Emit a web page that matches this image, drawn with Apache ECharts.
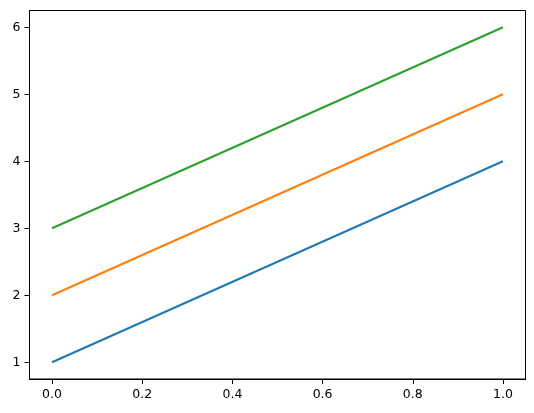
<!DOCTYPE html>
<html><head><meta charset="utf-8">
<script src="https://cdn.jsdelivr.net/npm/echarts@6/dist/echarts.min.js"></script>
<style>html,body{margin:0;padding:0;background:#fff}#c{width:534px;height:413px}</style>
</head><body><div id="c"></div>
<script>
const xValues = [0, 1];
const series1 = [1, 4];
const series2 = [2, 5];
const series3 = [3, 6];
const xTicks = [0, 0.2, 0.4, 0.6, 0.8, 1.0];
const yTicks = [1, 2, 3, 4, 5, 6];
const colors = ['#1f77b4', '#ff7f0e', '#2ca02c'];

const chart = echarts.init(document.getElementById('c'), null, {renderer: 'canvas'});
const font = {fontFamily: 'DejaVu Sans', fontSize: 12.5, color: '#000'};
const mk = (vals, i) => ({
  type: 'line', data: xValues.map((x, k) => [x, vals[k]]),
  showSymbol: false, symbol: 'none', animation: false,
  lineStyle: {color: colors[i], width: 2}, itemStyle: {color: colors[i]}
});
chart.setOption({
  animation: false,
  grid: {left: 29.5, right: 8.5, top: 10.5, bottom: 34, containLabel: false,
    show: true, borderColor: '#000', borderWidth: 1},
  xAxis: {type: 'value', min: -0.05, max: 1.05,
    axisLine: {show: true, onZero: false, lineStyle: {color: '#000', width: 1}},
    splitLine: {show: false},
    axisTick: {show: true, length: 5, lineStyle: {color: '#000'}, customValues: xTicks},
    axisLabel: Object.assign({margin: 9, customValues: xTicks, formatter: v => v.toFixed(1)}, font)
  },
  yAxis: {type: 'value', min: 0.75, max: 6.25,
    axisLine: {show: true, onZero: false, lineStyle: {color: '#000', width: 1}},
    splitLine: {show: false},
    axisTick: {show: true, length: 5, lineStyle: {color: '#000'}, customValues: yTicks},
    axisLabel: Object.assign({margin: 9, customValues: yTicks, formatter: v => String(v)}, font)
  },
  series: [mk(series1, 0), mk(series2, 1), mk(series3, 2)]
});
</script></body></html>
